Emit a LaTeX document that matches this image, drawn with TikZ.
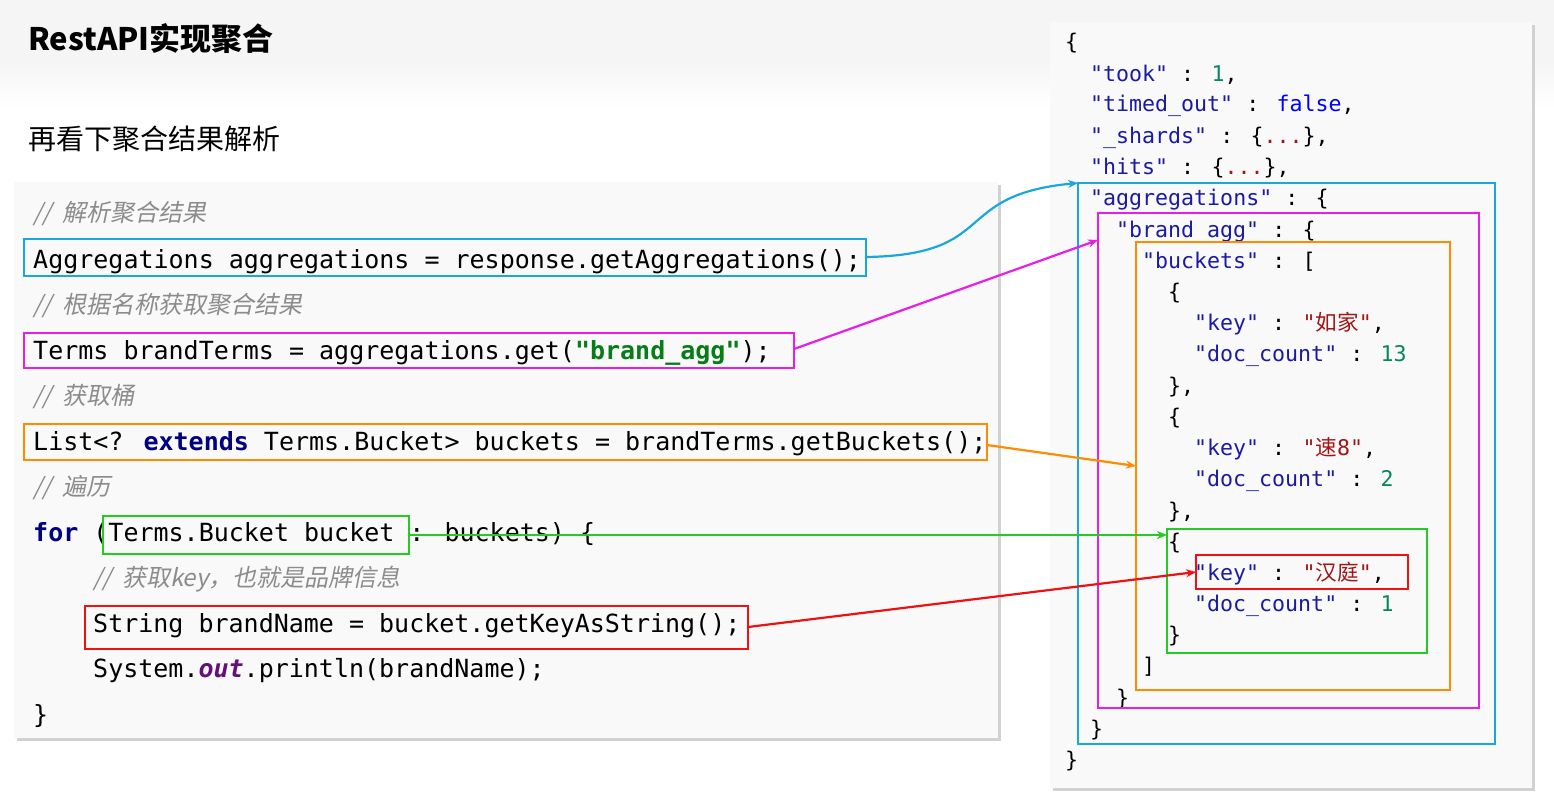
\documentclass[tikz,border=0pt]{standalone}
\usepackage{fontspec}
\setmainfont{Noto Sans CJK SC}
\newfontfamily\cjk{Noto Sans CJK SC}
\newfontfamily\cjkit{Noto Sans CJK SC}[FakeSlant=0.2]
\newfontfamily\mono{DejaVu Sans Mono}
\usetikzlibrary{arrows.meta}
\definecolor{cB}{HTML}{1AA7DC}\definecolor{cM}{HTML}{E61EE6}\definecolor{cO}{HTML}{FF8C00}
\definecolor{cG}{HTML}{22CC22}\definecolor{cR}{HTML}{EE1111}
\definecolor{kw}{HTML}{000080}\definecolor{str}{HTML}{067D17}\definecolor{cm}{HTML}{8C8C8C}
\definecolor{jk}{HTML}{1A1AA6}\definecolor{jn}{HTML}{098658}\definecolor{js}{HTML}{A31515}\definecolor{pu}{HTML}{660E7A}
\tikzset{
 code/.style={anchor=base west,inner sep=0,font=\mono\fontsize{25}{28}\selectfont},
 json/.style={anchor=base west,inner sep=0,font=\mono\fontsize{21.6}{24}\selectfont},
 cmt/.style={anchor=base west,inner sep=0,text=cm,font=\cjkit\fontsize{24}{26}\selectfont},
 hb/.style={draw=#1,line width=2.6pt},
 ar/.style={draw=#1,line width=2.2pt,-{Stealth[length=10pt,width=8pt]}},
}
\newcommand{\kwd}[1]{\textcolor{kw}{\bfseries #1}}
\newcommand{\jk}[1]{\textcolor{jk}{#1}}
\newcommand{\jn}[1]{\textcolor{jn}{#1}}
\newcommand{\js}[1]{\textcolor{js}{#1}}
\begin{document}
\begin{tikzpicture}[x=1pt,y=-1pt]
\useasboundingbox (0,0) rectangle (1554,796);
\fill[black!4] (0,0) rectangle (1554,60);
\shade[top color=black!4,bottom color=white] (0,60) rectangle (1554,110);
\node[anchor=base west,inner sep=0,font=\cjk\bfseries\fontsize{31}{34}\selectfont] (title) at (28,50) {RestAPI实现聚合};
\node[anchor=base west,inner sep=0,font=\cjk\fontsize{28}{30}\selectfont] (sub) at (28,149) {再看下聚合结果解析};
% left panel
\fill[black!18] (17,185) rectangle (1001,741);
\fill[black!2.5] (14,182) rectangle (998,738);
\node[cmt] (c1) at (33,221) {//\hspace{10pt}解析聚合结果};
\node[code] (l1) at (33,268) {Aggregations aggregations = response.getAggregations();};
\node[cmt] (c2) at (33,313) {//\hspace{10pt}根据名称获取聚合结果};
\node[code] (l2) at (33,359) {Terms brandTerms = aggregations.get(\textcolor{str}{\bfseries"brand\_agg"});};
\node[cmt] (c3) at (33,404) {//\hspace{10pt}获取桶};
\node[code] (l3) at (33,450) {List<? \kwd{extends} Terms.Bucket> buckets = brandTerms.getBuckets();};
\node[cmt] (c4) at (33,495) {//\hspace{10pt}遍历};
\node[code] (l4) at (33,541) {\kwd{for} (Terms.Bucket bucket : buckets) \{};
\node[cmt] (c5) at (93,586) {//\hspace{10pt}获取key，也就是品牌信息};
\node[code] (l5) at (93,632) {String brandName = bucket.getKeyAsString();};
\node[code] (l6) at (93,677) {System.\textcolor{pu}{\bfseries\itshape out}.println(brandName);};
\node[code] (l7) at (33,723) {\}};
\draw[hb=cB] (24,239) rectangle (866,276); \coordinate (bL) at (866,257);
\draw[hb=cM] (24,333) rectangle (794,368); \coordinate (mL) at (794,349);
\draw[hb=cO] (24,424) rectangle (987,460); \coordinate (oL) at (987,445);
\draw[hb=cG] (103,516) rectangle (409,554); \coordinate (gL) at (409,535);
\draw[hb=cR] (85,606) rectangle (748,649); \coordinate (rL) at (748,627);
% right panel
\fill[black!18] (1053,25) rectangle (1535,791);
\fill[black!2.5] (1050,22) rectangle (1532,788);
\foreach \t/\x/\y [count=\i] in {
 {\{}/1065/49,
 {\jk{"took"} : \jn{1},}/1090/81,
 {\jk{"timed\_out"} : \textcolor{blue}{false},}/1090/111,
 {\jk{"\_shards"} : \{\js{...}\},}/1090/143,
 {\jk{"hits"} : \{\js{...}\},}/1090/174,
 {\jk{"aggregations"} : \{}/1090/205,
 {\jk{"brand\_agg"} : \{}/1116/237,
 {\jk{"buckets"} : [}/1142/268,
 {\{}/1168/299,
 {\jk{"key"} : \js{"{\cjk 如家}"},}/1194/330,
 {\jk{"doc\_count"} : \jn{13}}/1194/361,
 {\},}/1168/393,
 {\{}/1168/424,
 {\jk{"key"} : \js{"{\cjk 速}8"},}/1194/455,
 {\jk{"doc\_count"} : \jn{2}}/1194/486,
 {\},}/1168/518,
 {\{}/1168/549,
 {\jk{"key"} : \js{"{\cjk 汉庭}"},}/1194/580,
 {\jk{"doc\_count"} : \jn{1}}/1194/611,
 {\}}/1168/642,
 {]}/1142/673,
 {\}}/1116/705,
 {\}}/1090/736,
 {\}}/1065/767}
 \node[json] (j\i) at (\x,\y) {\t};
\draw[hb=cB] (1078,183) rectangle (1495,744); \coordinate (bR) at (1078,183);
\draw[hb=cM] (1098,213) rectangle (1479,708); \coordinate (mR) at (1098,240);
\draw[hb=cO] (1136,242) rectangle (1450,690); \coordinate (oR) at (1136,466);
\draw[hb=cG] (1167,529) rectangle (1427,653); \coordinate (gR) at (1167,535);
\draw[hb=cR] (1196,555) rectangle (1408,589); \coordinate (rR) at (1196,572);
% arrows
\draw[ar=cB] (bL) .. controls (1000,255) and (950,195) .. (bR);
\draw[ar=cM] (mL) -- (mR);
\draw[ar=cO] (oL) -- (oR);
\draw[ar=cG] (gL) -- (gR);
\draw[ar=cR] (rL) -- (rR);
\end{tikzpicture}
\end{document}
